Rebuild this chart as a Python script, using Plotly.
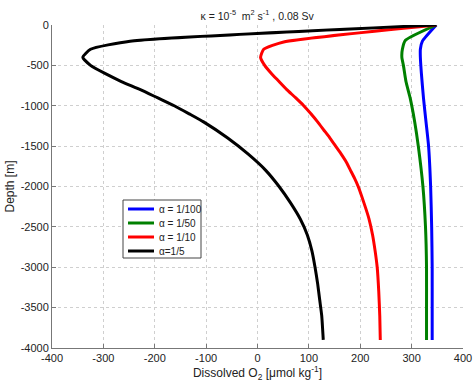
import plotly.graph_objects as go

# Depth levels (m) and dissolved O2 (umol/kg) for each alpha
depth_blue = [0, -200, -300, -400, -600, -900, -1200, -1500, -2000, -2500, -3000, -3500, -3900]
o2_blue = [348, 321, 317, 317, 319, 323, 328, 333, 337, 339, 340, 340, 340]

depth_green = [0, -190, -300, -400, -500, -700, -900, -1200, -1500, -2000, -2500, -3000, -3500, -3900]
o2_green = [348, 288, 282, 281, 284, 289, 297, 306, 313, 322, 327, 329, 329, 329]

depth_red = [0, -210, -300, -400, -500, -600, -700, -800, -900, -1000, -1100, -1200, -1300, -1400,
             -1500, -1600, -1700, -1800, -1900, -2000, -2200, -2400, -2600, -2800, -3000, -3300,
             -3600, -3900]
o2_red = [348, 51, 12, 6, 14, 27, 42, 57, 74, 90, 104, 117, 129, 141,
          152, 163, 173, 181, 189, 196, 207, 217, 224, 229, 233, 236, 238, 239]

depth_black = [0, -200, -300, -400, -500, -600, -700, -800, -900, -1000, -1100, -1200, -1400,
               -1600, -1800, -2000, -2200, -2400, -2600, -2800, -3000, -3200, -3400,
               -3600, -3900]
o2_black = [348, -248, -325, -340, -325, -297, -265, -228, -195, -162, -133, -105, -58,
            -18, 16, 42, 64, 83, 97, 106, 112, 117, 121, 125, 128]

series_names = ["α = 1/100", "α = 1/50", "α = 1/10", "α=1/5"]
series_colors = ["#0000ff", "#008000", "#ff0000", "#000000"]

x_tickvals = [-400, -300, -200, -100, 0, 100, 200, 300, 400]
x_ticktext = ["-400", "-300", "-200", "-100", "0", "100", "200", "300", "400"]
y_tickvals = [0, -500, -1000, -1500, -2000, -2500, -3000, -3500, -4000]
y_ticktext = ["0", "-500", "-1000", "-1500", "-2000", "-2500", "-3000", "-3500", "-4000"]

W, H = 474, 384
ML, MR, MT, MB = 52, 11, 25, 36
PW, PH = W - ML - MR, H - MT - MB


def px_x(p):
    return (p - ML) / PW


def px_y(p):
    return (H - MB - p) / PH


fig = go.Figure()
for x, y, name, color in zip([o2_blue, o2_green, o2_red, o2_black],
                             [depth_blue, depth_green, depth_red, depth_black],
                             series_names, series_colors):
    fig.add_trace(go.Scatter(x=x, y=y, mode="lines", name=name, showlegend=False,
                             line=dict(color=color, width=3, shape="spline", smoothing=0.5)))

font_family = "Liberation Sans, Arial, sans-serif"

# Compact MATLAB-style legend box
shapes = [dict(type="rect", xref="paper", yref="paper",
               x0=px_x(123), x1=px_x(201), y0=px_y(258), y1=px_y(200),
               line=dict(color="#444", width=1), fillcolor="white", layer="above")]
annotations = []
for i, (name, color) in enumerate(zip(series_names, series_colors)):
    yp = px_y(209 + 14 * i)
    shapes.append(dict(type="line", xref="paper", yref="paper",
                       x0=px_x(128), x1=px_x(154), y0=yp, y1=yp,
                       line=dict(color=color, width=3), layer="above"))
    annotations.append(dict(xref="paper", yref="paper", x=px_x(157), y=yp,
                            xanchor="left", yanchor="middle", showarrow=False,
                            text=name, font=dict(size=10, family=font_family, color="#222")))

fig.update_layout(
    width=W, height=H,
    margin=dict(l=ML, r=MR, t=MT, b=MB),
    paper_bgcolor="white", plot_bgcolor="white",
    font=dict(family=font_family, size=11, color="#222"),
    title=dict(text="κ = 10<sup>-5</sup>  m<sup>2</sup> s<sup>-1</sup> , 0.08 Sv",
               x=0.5425, xanchor="center", y=0.958, yanchor="middle",
               font=dict(size=10.5, family=font_family, color="#222")),
    showlegend=False,
    shapes=shapes,
    annotations=annotations,
)
fig.update_xaxes(range=[-400, 400], tickvals=x_tickvals, ticktext=x_ticktext,
                 showgrid=True, gridcolor="#cfcfcf", griddash="dot", gridwidth=1,
                 showline=True, linecolor="#777", linewidth=1, ticks="inside", ticklen=4,
                 tickcolor="#777", zeroline=False, automargin=False,
                 title=dict(text="Dissolved O<sub>2</sub> [μmol kg<sup>-1</sup>]",
                            font=dict(size=12, family=font_family), standoff=4))
fig.update_yaxes(range=[-4000, 0], tickvals=y_tickvals, ticktext=y_ticktext,
                 showgrid=True, gridcolor="#cfcfcf", griddash="dot", gridwidth=1,
                 showline=True, linecolor="#777", linewidth=1, ticks="inside", ticklen=4,
                 tickcolor="#777", zeroline=False, automargin=False,
                 title=dict(text="Depth [m]", font=dict(size=12, family=font_family), standoff=3))

fig.write_html("out.html", config={"displayModeBar": False},
               post_script="document.body.style.margin='0px';document.body.style.overflow='hidden';")
